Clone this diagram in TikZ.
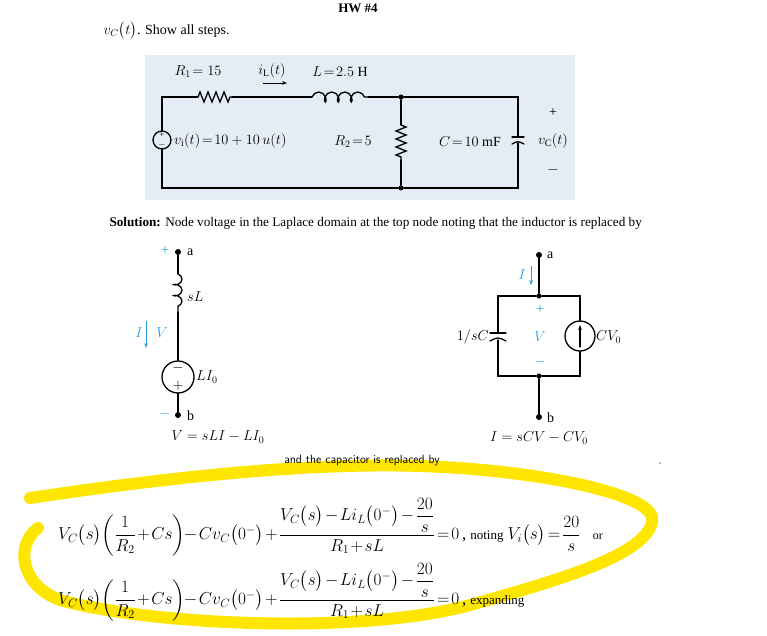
\documentclass[tikz,border=0pt]{standalone}
\usepackage{amsmath}
\usepackage{fontspec}
\setmainfont{Liberation Serif}
\usetikzlibrary{decorations.pathmorphing,arrows.meta}
\definecolor{bl}{RGB}{40,160,220}
\definecolor{hl}{RGB}{255,230,0}
\definecolor{bgb}{RGB}{228,236,246}
\tikzset{
  w/.style={line width=1.3pt,line cap=round},
  dot/.style={circle,fill=black,inner sep=0pt,minimum size=6pt},
  lbl/.style={inner sep=1pt,font=\fontsize{14}{16}\selectfont},
  res/.style={decorate,decoration={zigzag,segment length=8pt,amplitude=5pt}},
  coilh/.style={decorate,decoration={coil,aspect=0.7,segment length=13pt,amplitude=5pt}},
}
\begin{document}
\begin{tikzpicture}[x=1pt,y=-1pt]
\useasboundingbox (0,0) rectangle (767,636);
% highlight
\draw[hl,line width=12pt,line cap=round,line join=round] (30,498) .. controls (150,480) and (300,462) .. (420,466) .. controls (540,470) and (660,495) .. (652,522) .. controls (645,555) and (560,580) .. (470,605) .. controls (360,635) and (150,625) .. (60,600) .. controls (20,585) and (15,545) .. (38,528);
% header
\node[font=\bfseries\fontsize{13}{15}\selectfont] (hw) at (358,8) {HW \#4};
\node[anchor=west,font=\fontsize{14}{16}\selectfont] (q) at (100,31) {$v_C\big(t\big)$. Show all steps.};
% circuit 1
\fill[bgb] (145,55) rectangle (575,200);
\node[draw,w,circle,minimum size=18pt,inner sep=0pt] (vs) at (162,140) {};
\node[font=\fontsize{9}{9}\selectfont] at (162,135) {+};
\node[font=\fontsize{9}{9}\selectfont] at (162,145) {$-$};
\coordinate (tl) at (162,97); \coordinate (bl1) at (162,188);
\coordinate (r1a) at (198,97); \coordinate (r1b) at (232,97);
\coordinate (la) at (312,97); \coordinate (lb) at (368,97);
\node[dot,minimum size=5pt] (n1) at (401,97) {};
\node[dot,minimum size=5pt] (n2) at (401,188) {};
\coordinate (tr) at (518,97); \coordinate (br) at (518,188);
\draw[w] (vs.north) -- (tl) -- (r1a);
\draw[w,res] (r1a) -- (r1b);
\draw[w] (r1b) -- (la);
\draw[w,coilh] (la) -- (lb);
\draw[w] (lb) -- (n1) -- (tr) -- (518,137);
\draw[w] (vs.south) -- (bl1) -- (n2) -- (br) -- (518,143);
\draw[w] (512,137) -- (524,137);
\draw[w] (512,144) .. controls (518,141) .. (524,144);
\draw[w] (n1) -- (401,125);
\draw[w,res] (401,125) -- (401,160);
\draw[w] (401,160) -- (n2);
\node[lbl] at (198,72) {$R_1\!=15$};
\node[lbl] at (272,71) {$i_{\mathrm L}(t)$};
\draw[-{Stealth[length=5pt]},semithick] (263,83) -- (287,83);
\node[lbl] at (340,72) {$L\!=\!2.5$ H};
\node[lbl,anchor=west] at (173,141) {$v_{\mathrm i}(t)\!=\!10+10\,u(t)$};
\node[lbl] at (353,142) {$R_2\!=\!5$};
\node[lbl] at (470,142) {$C\!=\!10$ mF};
\node[lbl] at (553,141) {$v_{\mathrm C}(t)$};
\node[lbl] at (553,113) {+};
\node[lbl] at (553,170) {$-$};
% solution line
\node[anchor=west,font=\fontsize{13.2}{15}\selectfont] (sol) at (106,223) {\textbf{Solution:} Node voltage in the Laplace domain at the top node noting that the inductor is replaced by};
% left small circuit
\node[dot] (a1) at (178,252) {};
\node[dot] (b1) at (178,415) {};
\node[draw,w,circle,minimum size=32pt,inner sep=0pt] (src) at (178,377) {};
\draw[w] (a1) -- (178,274);
\draw[w,decorate,decoration={coil,aspect=0.6,segment length=11pt,amplitude=4pt}] (178,274) -- (178,312);
\draw[w] (178,312) -- (src.north);
\draw[w] (src.south) -- (b1);
\node[lbl] at (178,368) {$-$};
\node[lbl] at (178,386) {$+$};
\node[lbl,anchor=west] at (186,252) {a};
\node[lbl,anchor=west] at (186,416) {b};
\node[lbl,text=bl] at (165,251) {+};
\node[lbl,text=bl] at (165,414) {$-$};
\node[lbl,anchor=west] at (186,297) {$sL$};
\node[lbl,anchor=west] at (195,377) {$LI_0$};
\node[lbl,text=bl] at (139,333) {$I$};
\draw[bl,-{Stealth[length=5pt]},semithick] (146,321) -- (146,348);
\node[lbl,text=bl] at (162,333) {$V$};
\node[lbl] at (218,437) {$V = sLI - LI_0$};
% right small circuit
\node[dot] (a2) at (539,255) {};
\node[dot,minimum size=5pt] (t2) at (539,296) {};
\node[dot,minimum size=5pt] (u2) at (539,376) {};
\node[dot] (b2) at (539,417) {};
\node[draw,w,circle,minimum size=30pt,inner sep=0pt] (cs) at (580,336) {};
\draw[w,-{Stealth[length=5pt]}] (580,347) -- (580,325);
\draw[w] (a2) -- (t2) -- (580,296) -- (cs.north);
\draw[w] (cs.south) -- (580,376) -- (u2) -- (b2);
\draw[w] (t2) -- (498,296) -- (498,333);
\draw[w] (u2) -- (498,376) -- (498,340);
\draw[w] (490,333) -- (506,333);
\draw[w] (490,341) .. controls (498,337) .. (506,341);
\node[lbl,anchor=west] at (546,255) {a};
\node[lbl,anchor=west] at (546,418) {b};
\node[lbl,text=bl] at (522,275) {$I$};
\draw[bl,-{Stealth[length=5pt]},semithick] (531,266) -- (531,285);
\node[lbl,text=bl] at (540,310) {+};
\node[lbl,text=bl] at (540,337) {$V$};
\node[lbl,text=bl] at (540,362) {$-$};
\node[lbl,anchor=east] at (490,337) {$1/sC$};
\node[lbl,anchor=west] at (595,337) {$CV_0$};
\node[lbl] at (539,438) {$I = sCV - CV_0$};
% text
\node[font=\fontsize{12}{14}\sffamily\selectfont] (cap) at (362,461) {and the capacitor is replaced by};
\fill (660,463) circle (0.6pt);
% equations
\node[anchor=west,font=\fontsize{16.5}{18}\selectfont,inner sep=0pt] (e1) at (58,527) {$\medmuskip=1.5mu\thickmuskip=2mu V_C\big(s\big)\!\left(\dfrac{1}{R_2}+Cs\right)\!-Cv_C\big(0^-\big)+\dfrac{V_C\big(s\big)-Li_L\big(0^-\big)-\dfrac{20}{s}}{R_1+sL}=0$\,, {\fontsize{13}{15}\selectfont noting} $\thickmuskip=2mu V_i\big(s\big)=\dfrac{20}{s}$\ \ \ {\fontsize{12}{14}\selectfont or}};
\node[anchor=west,font=\fontsize{16.5}{18}\selectfont,inner sep=0pt] (e2) at (58,592) {$\medmuskip=1.5mu\thickmuskip=2mu V_C\big(s\big)\!\left(\dfrac{1}{R_2}+Cs\right)\!-Cv_C\big(0^-\big)+\dfrac{V_C\big(s\big)-Li_L\big(0^-\big)-\dfrac{20}{s}}{R_1+sL}=0$\,, {\fontsize{13}{15}\selectfont expanding}};
\end{tikzpicture}
\end{document}
